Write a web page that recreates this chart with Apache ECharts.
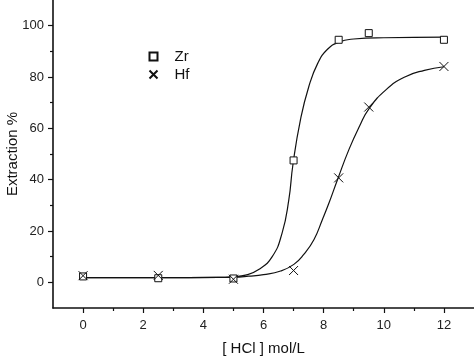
<!DOCTYPE html>
<html><head><meta charset="utf-8">
<script src="https://cdn.jsdelivr.net/npm/echarts@6/dist/echarts.min.js"></script>
<style>html,body{margin:0;padding:0;background:#fff}#c{width:474px;height:356px}</style>
</head><body><div id="c"></div>
<script>
// measured points
const zrX = [0, 2.5, 5, 7, 8.5, 9.5, 12];
const zrY = [2.3, 1.6, 1.5, 47.5, 94.5, 97.1, 94.5];
const hfX = [0, 2.5, 5, 7, 8.5, 9.5, 12];
const hfY = [2.6, 2.7, 1.2, 4.6, 40.7, 68.3, 84.1];
// fitted curves
const zrFitX = [0, 2.5, 4.5, 5.0, 5.4, 5.84, 6.29, 6.62, 6.84, 6.98, 7.23, 7.51, 7.81, 8.12, 8.5, 9.0, 10.0, 12.0];
const zrFitY = [1.8, 1.8, 1.9, 2.2, 2.8, 5.0, 10.0, 19.3, 32.0, 46.0, 63.4, 76.4, 85.5, 90.7, 93.6, 94.8, 95.3, 95.5];
const hfFitX = [0, 2.5, 4.5, 5.0, 5.5, 6.0, 6.57, 7.01, 7.34, 7.68, 7.96, 8.18, 8.46, 8.85, 9.2, 9.5, 10.07, 10.7, 11.35, 12.0];
const hfFitY = [1.8, 1.8, 1.9, 2.0, 2.4, 3.0, 4.4, 7.0, 10.9, 16.7, 24.5, 31.0, 40.0, 52.0, 61.0, 67.5, 75.0, 80.0, 82.6, 84.0];
// ticks
const xMajor = [0, 2, 4, 6, 8, 10, 12];
const xMinor = [1, 3, 5, 7, 9, 11];
const yMajor = [0, 20, 40, 60, 80, 100];
const yMinor = [10, 30, 50, 70, 90];

const pairs = (xs, ys) => xs.map((x, i) => [x, ys[i]]);
const FONT = 'Liberation Sans, Arial, sans-serif';
const chart = echarts.init(document.getElementById('c'), null, {renderer: 'canvas'});
const lineCol = '#111';
chart.setOption({
  animation: false,
  backgroundColor: '#fff',
  grid: {left: 53, right: 0, top: 0, bottom: 48, containLabel: false, outerBoundsMode: 'none'},
  legend: {
    left: 142, top: 44, orient: 'vertical', itemGap: 3, itemWidth: 8, itemHeight: 8,
    data: ['Zr', 'Hf'],
    textStyle: {fontFamily: FONT, fontSize: 15, color: '#111', padding: [0, 0, 0, 12]}
  },
  xAxis: [{
    type: 'value', min: -1, max: 13,
    name: '[ HCl ] mol/L', nameLocation: 'middle', nameGap: 33, nameMoveOverlap: false,
    nameTextStyle: {fontFamily: FONT, fontSize: 15, color: '#111'},
    axisLine: {onZero: false, lineStyle: {color: lineCol, width: 1.6}},
    axisTick: {customValues: xMajor, length: 5, lineStyle: {color: lineCol, width: 1.2}},
    axisLabel: {customValues: xMajor, margin: 11, fontFamily: FONT, fontSize: 13, color: '#222'},
    splitLine: {show: false}
  }, {
    type: 'value', min: -1, max: 13, position: 'bottom',
    axisLine: {show: false, onZero: false},
    axisTick: {customValues: xMinor, length: 3, lineStyle: {color: lineCol, width: 1.2}},
    axisLabel: {show: false}, splitLine: {show: false}
  }],
  yAxis: [{
    type: 'value', min: -10, max: 110,
    name: 'Extraction %', nameLocation: 'middle', nameGap: 33, nameMoveOverlap: false,
    nameTextStyle: {fontFamily: FONT, fontSize: 15, color: '#111'},
    axisLine: {onZero: false, lineStyle: {color: lineCol, width: 1.6}},
    axisTick: {customValues: yMajor, length: 5, lineStyle: {color: lineCol, width: 1.2}},
    axisLabel: {customValues: yMajor, margin: 9, fontFamily: FONT, fontSize: 13, color: '#222'},
    splitLine: {show: false}
  }, {
    type: 'value', min: -10, max: 110, position: 'left',
    axisLine: {show: false, onZero: false},
    axisTick: {customValues: yMinor, length: 3, lineStyle: {color: lineCol, width: 1.2}},
    axisLabel: {show: false}, splitLine: {show: false}
  }],
  series: [
    {name: 'Zr fit', type: 'line', data: pairs(zrFitX, zrFitY), smooth: 0.5,
     showSymbol: false, lineStyle: {color: '#111', width: 1.2}, z: 2},
    {name: 'Hf fit', type: 'line', data: pairs(hfFitX, hfFitY), smooth: 0.5,
     showSymbol: false, lineStyle: {color: '#111', width: 1.2}, z: 2},
    {name: 'Zr', type: 'scatter', data: pairs(zrX, zrY), symbol: 'rect', symbolSize: 7,
     itemStyle: {color: '#fff', borderColor: '#111', borderWidth: 1, opacity: 1}, z: 3},
    {name: 'Hf', type: 'scatter', data: pairs(hfX, hfY), symbol: 'path://M0,0L10,10M10,0L0,10', symbolSize: 9,
     itemStyle: {color: 'none', borderColor: '#111', borderWidth: 1, opacity: 1}, z: 3}
  ]
});
</script></body></html>
